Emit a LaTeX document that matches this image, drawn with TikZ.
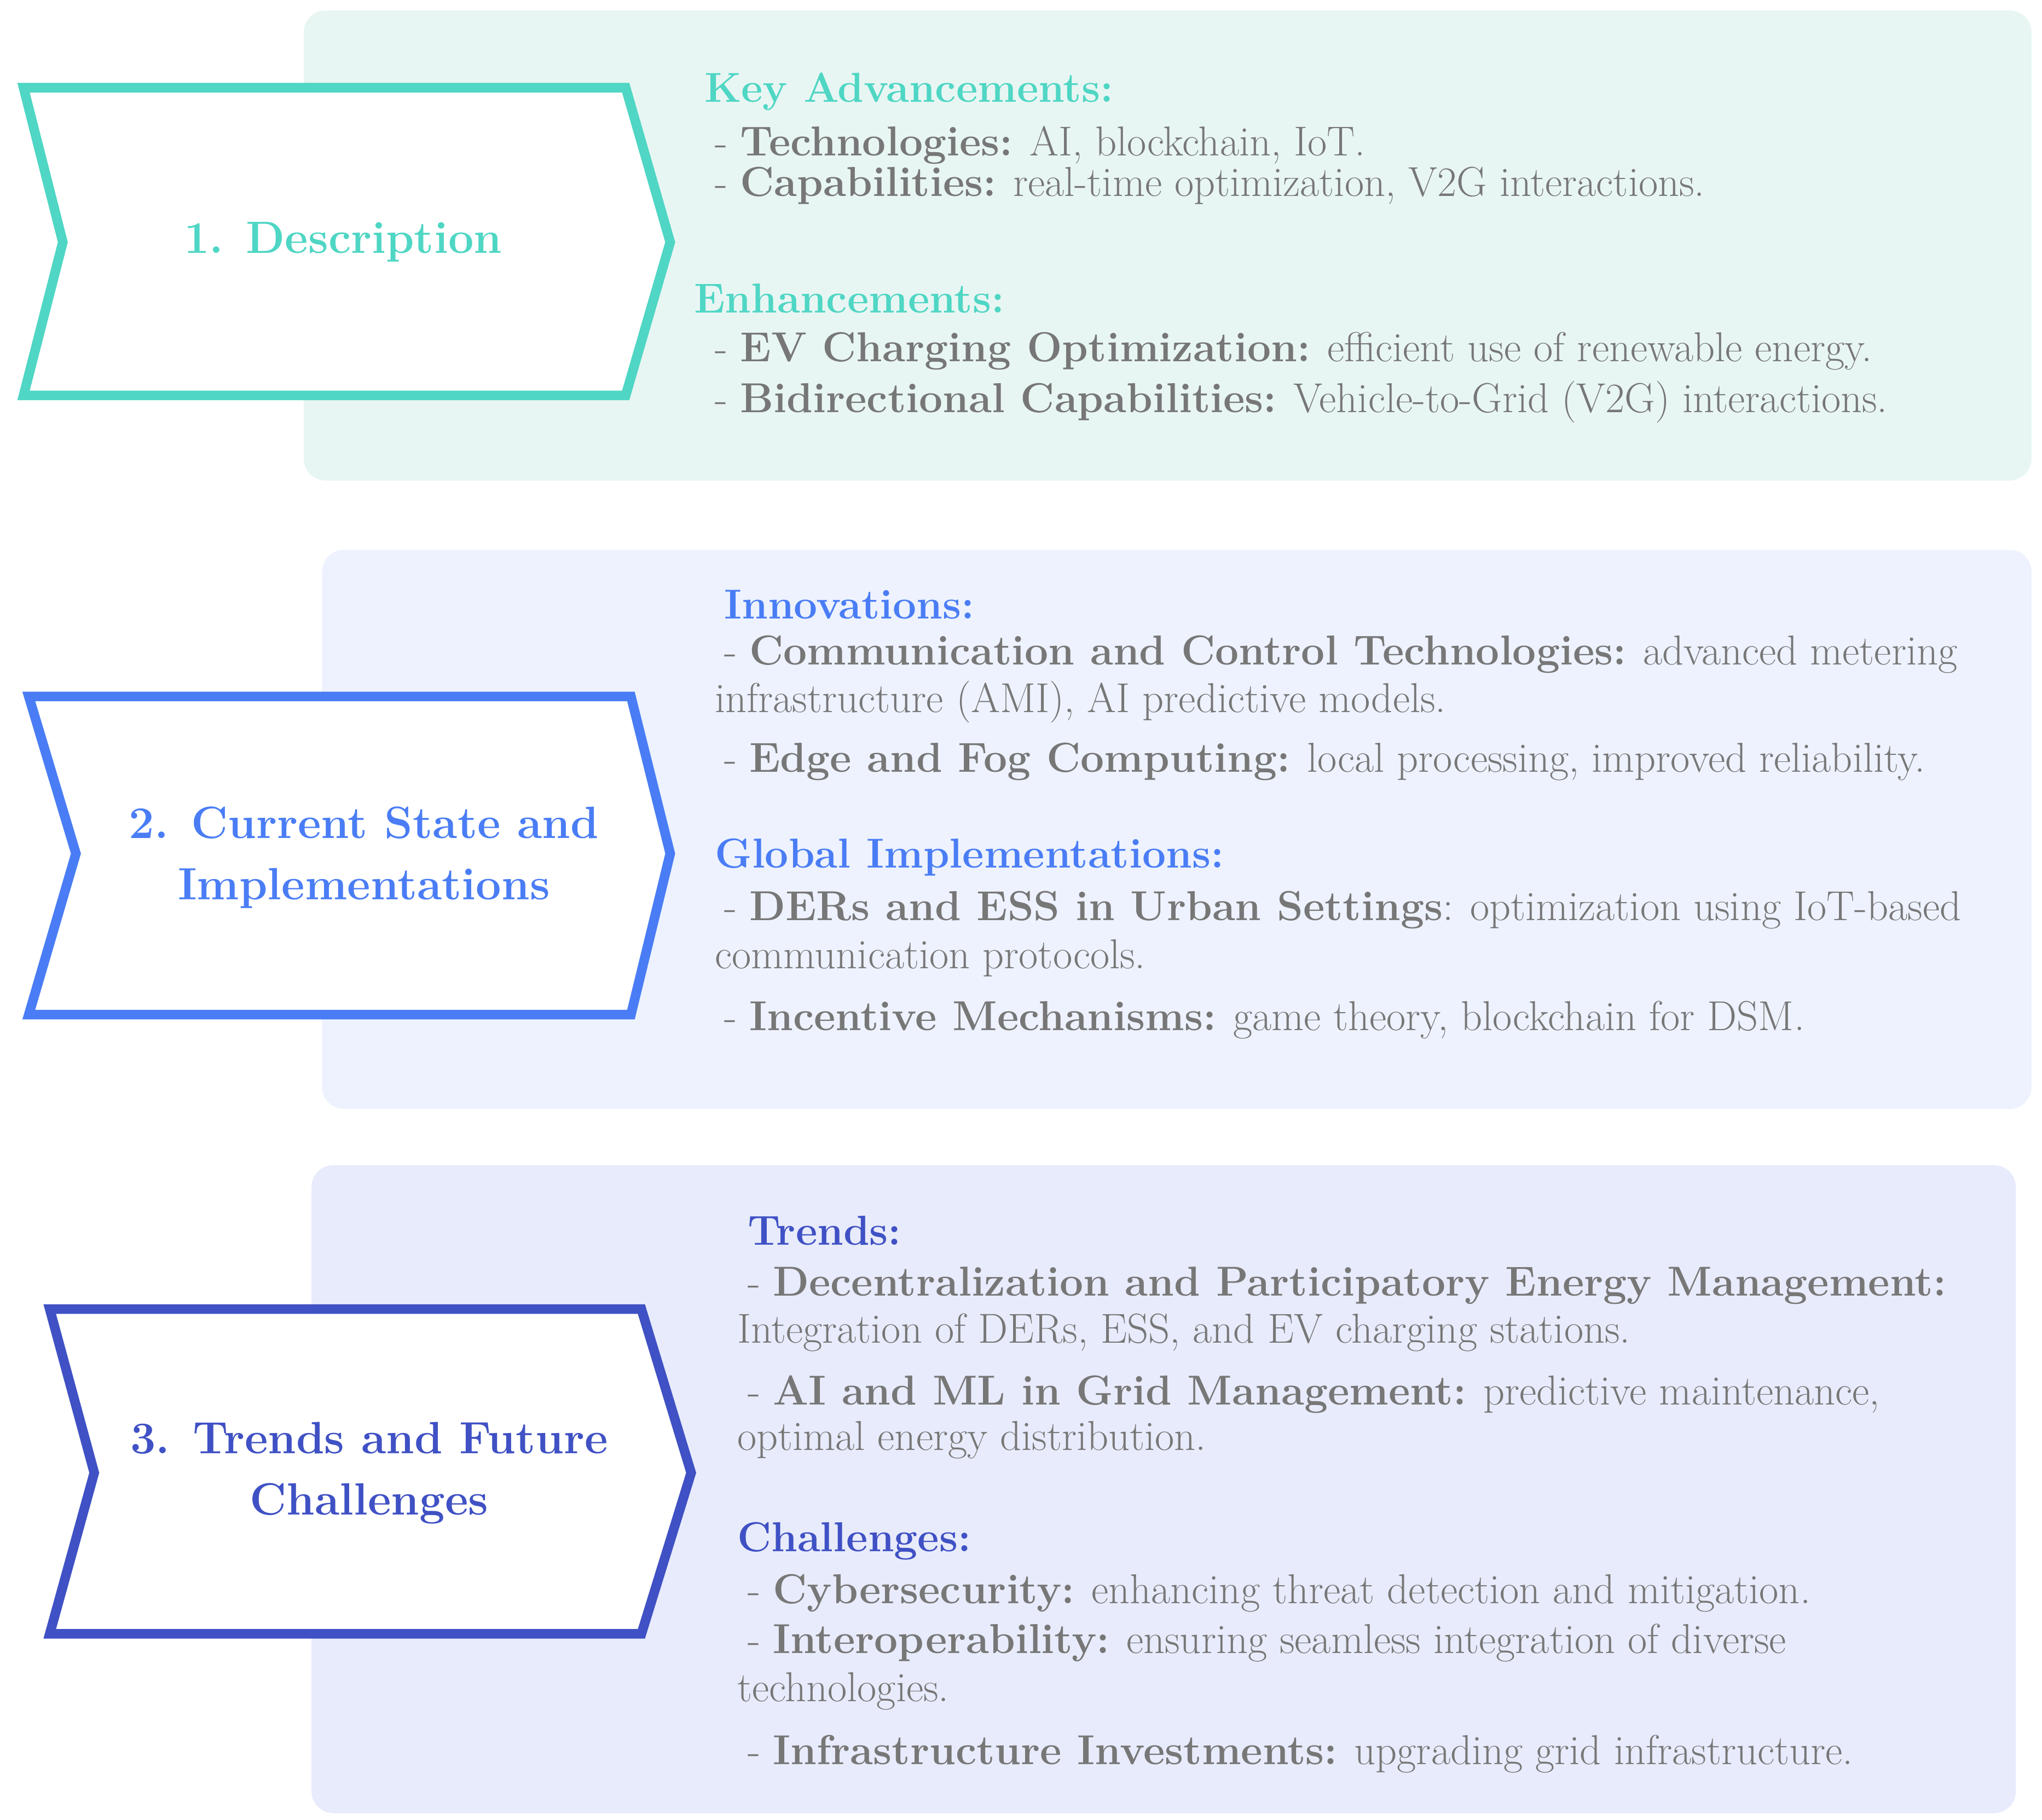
\documentclass[tikz,border=0pt]{standalone}
\usetikzlibrary{positioning}
\definecolor{cA}{HTML}{4FD6C4}\definecolor{cB}{HTML}{4A7DF5}\definecolor{cC}{HTML}{3F51C4}
\definecolor{fA}{HTML}{E8F6F3}\definecolor{fB}{HTML}{EDF2FE}\definecolor{fC}{HTML}{E8EBFB}
\definecolor{tx}{HTML}{777777}
\tikzset{x=0.3mm,y=-0.3mm,
 panel/.style={rounded corners=5mm},
 chev/.style={line width=2.2mm,fill=white,line join=miter},
 ln/.style={anchor=west,inner sep=0pt,text=tx,font=\fontsize{27.3}{32}\selectfont},
 hd/.style={anchor=west,inner sep=0pt,font=\fontsize{27.3}{32}\selectfont\bfseries},
 ttl/.style={align=center,font=\fontsize{29.5}{40}\selectfont\bfseries}}
\begin{document}
\begin{tikzpicture}
\useasboundingbox (0,0) rectangle (1560,1390);
\fill[fA,panel] (232,8) rectangle (1552,367);
\fill[fB,panel] (246,420) rectangle (1552,847);
\fill[fC,panel] (238,890) rectangle (1540,1385);
\draw[chev,draw=cA] (18,67)--(478,67)--(512,185)--(478,302)--(18,302)--(48,185)--cycle;
\draw[chev,draw=cB] (22,532)--(482,532)--(512,652)--(482,775)--(22,775)--(58,652)--cycle;
\draw[chev,draw=cC] (38,1000)--(490,1000)--(528,1125)--(490,1248)--(38,1248)--(72,1125)--cycle;
\node[ttl,text=cA] (t1) at (262,185) {1. Description};
\node[ttl,text=cB] (t2) at (278,655) {2. Current State and\\Implementations};
\node[ttl,text=cC] (t3) at (282,1125) {3. Trends and Future\\Challenges};
% box 1
\node[hd,text=cA] (a1) at (538,70) {Key Advancements:};
\node[ln] (a2) at (546,111) {- \textbf{Technologies:} AI, blockchain, IoT.};
\node[ln] (a3) at (546,142) {- \textbf{Capabilities:} real-time optimization, V2G interactions.};
\node[hd,text=cA] (a4) at (530,228) {Enhancements:};
\node[ln] (a5) at (546,268) {- \textbf{EV Charging Optimization:} efficient use of renewable energy.};
\node[ln] (a6) at (546,307) {- \textbf{Bidirectional Capabilities:} Vehicle-to-Grid (V2G) interactions.};
% box 2
\node[hd,text=cB] (b1) at (553,462) {Innovations:};
\node[ln] (b2) at (553,500) {- \textbf{Communication and Control Technologies:} advanced metering};
\node[ln] (b3) at (546,536) {infrastructure (AMI), AI predictive models.};
\node[ln] (b4) at (553,582) {- \textbf{Edge and Fog Computing:} local processing, improved reliability.};
\node[hd,text=cB] (b5) at (546,655) {Global Implementations:};
\node[ln] (b6) at (553,695) {- \textbf{DERs and ESS in Urban Settings}: optimization using IoT-based};
\node[ln] (b7) at (546,732) {communication protocols.};
\node[ln] (b8) at (553,779) {- \textbf{Incentive Mechanisms:} game theory, blockchain for DSM.};
% box 3
\node[hd,text=cC] (c1) at (571,940) {Trends:};
\node[ln] (c2) at (571,982) {- \textbf{Decentralization and Participatory Energy Management:}};
\node[ln] (c3) at (563,1018) {Integration of DERs, ESS, and EV charging stations.};
\node[ln] (c4) at (571,1065) {- \textbf{AI and ML in Grid Management:} predictive maintenance,};
\node[ln] (c5) at (563,1100) {optimal energy distribution.};
\node[hd,text=cC] (c6) at (563,1177) {Challenges:};
\node[ln] (c7) at (571,1217) {- \textbf{Cybersecurity:} enhancing threat detection and mitigation.};
\node[ln] (c8) at (571,1255) {- \textbf{Interoperability:} ensuring seamless integration of diverse};
\node[ln] (c9) at (563,1292) {technologies.};
\node[ln] (c10) at (571,1340) {- \textbf{Infrastructure Investments:} upgrading grid infrastructure.};
\end{tikzpicture}
\end{document}
